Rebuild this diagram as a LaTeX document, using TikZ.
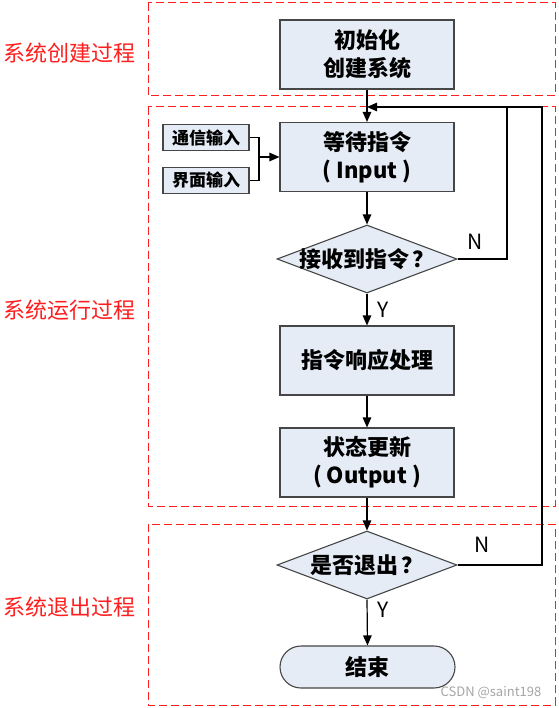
\documentclass[tikz,border=0pt]{standalone}
\usepackage{fontspec}
\setmainfont{Noto Sans CJK SC}
\usetikzlibrary{arrows.meta,shapes.geometric}
\definecolor{boxfill}{RGB}{230,236,246}
\definecolor{boxline}{RGB}{70,70,70}
\definecolor{stagered}{RGB}{255,30,30}
\begin{document}
\begin{tikzpicture}[x=1pt,y=-1pt,
  every node/.style={inner sep=0pt},
  stagebox/.style={draw=stagered,line width=1pt,dash pattern=on 8pt off 4pt},
  stagelabel/.style={text=stagered,font=\fontsize{22}{24}\selectfont},
  procbox/.style={draw=boxline,fill=boxfill,line width=1.1pt,minimum width=174pt,minimum height=69pt,
     align=center,font=\bfseries\fontsize{22}{28}\selectfont},
  inbox/.style={draw=boxline,fill=boxfill,line width=1.1pt,minimum width=86pt,minimum height=26pt,
     font=\bfseries\fontsize{17}{18}\selectfont},
  decision/.style={diamond,draw=boxline,fill=boxfill,line width=1.1pt,minimum width=180pt,minimum height=68pt,
     font=\bfseries\fontsize{22}{24}\selectfont},
  endbox/.style={draw=boxline,fill=boxfill,line width=1.1pt,minimum width=175pt,minimum height=42pt,
     rounded corners=21pt,font=\bfseries\fontsize{22}{24}\selectfont},
  flow/.style={draw=black,line width=1.2pt},
  arr/.style={flow,-{Triangle[length=10pt,width=8.5pt]}},
  yn/.style={font=\fontsize{21}{24}\selectfont}
]
\useasboundingbox (0,0) rectangle (558,708);
\fill[white] (0,0) rectangle (558,708);
% stage frames
\draw[stagebox] (148,3) rectangle (555,96);
\draw[stagebox] (148,107) rectangle (555,506);
\draw[stagebox] (148,524) rectangle (555,705);
\node[stagelabel] (l1) at (69,53) {系统创建过程};
\node[stagelabel] (l2) at (69,310) {系统运行过程};
\node[stagelabel] (l3) at (69,607) {系统退出过程};
% nodes
\node[procbox] (init) at (367,54.5) {初始化\\创建系统};
\node[procbox] (wait) at (367,157) {等待指令\\( Input )};
\node[inbox] (in1) at (206,137.5) {通信输入};
\node[inbox] (in2) at (206,180.5) {界面输入};
\node[decision] (recv) at (367,259) {\makebox[0pt]{接收到指令\,？}};
\node[procbox] (proc) at (367,360.5) {指令响应处理};
\node[procbox] (state) at (367,462.5) {状态更新\\( Output )};
\node[decision] (quit) at (367,565) {\makebox[0pt]{是否退出\,？}};
\node[endbox] (fin) at (367.5,667) {结束};
\coordinate (j) at (259,157);
\coordinate (m) at (367,107);
\coordinate (r1) at (507,107);
\coordinate (r2) at (542,107);
% connectors
\draw[arr] (init.south) -- (wait.north);
\draw[flow] (in1.east) -| (j) |- (in2.east);
\draw[arr] (j) -- (wait.west);
\draw[arr] (wait.south) -- (recv.north);
\draw[arr] (recv.south) -- (proc.north);
\draw[arr] (proc.south) -- (state.north);
\draw[arr] (state.south) -- (quit.north);
\draw[arr] (quit.south) -- (fin.north);
\draw[flow] (recv.east) -| (r1);
\draw[arr] (quit.east) -| (r2) -- (m);
% labels
\node[yn] (n1) at (475,242) {N};
\node[yn] (y1) at (383,310) {Y};
\node[yn] (n2) at (482,545) {N};
\node[yn] (y2) at (383,610) {Y};
\node[text=black!35,font=\fontsize{13}{15}\selectfont] (wm) at (491,693) {CSDN @saint198};
\end{tikzpicture}
\end{document}
